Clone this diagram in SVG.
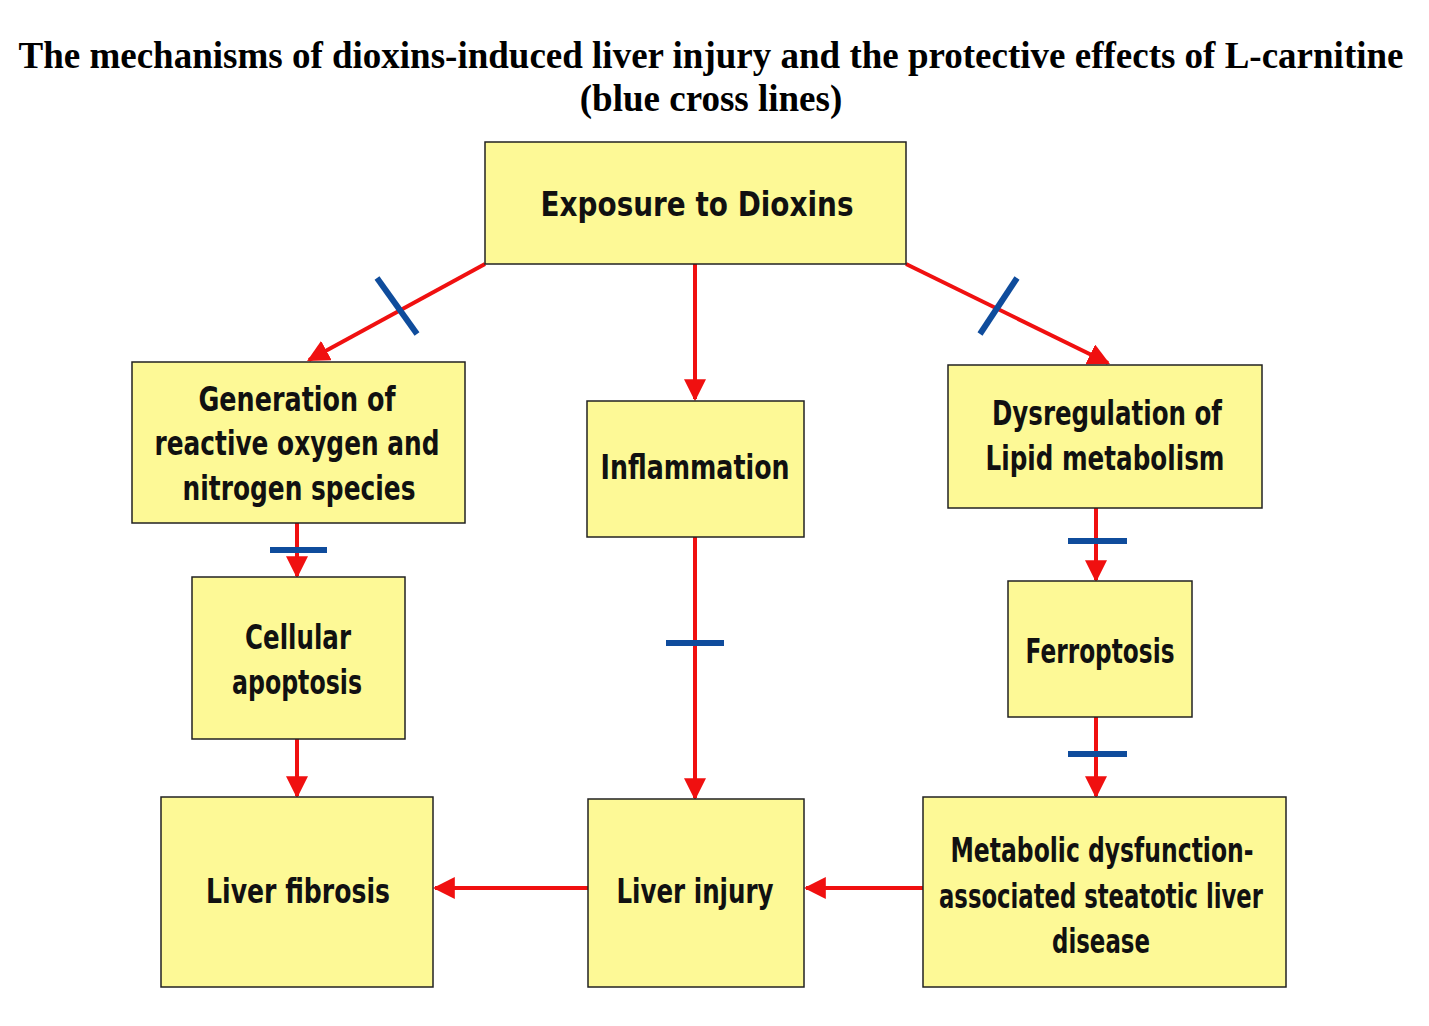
<svg xmlns="http://www.w3.org/2000/svg" width="1429" height="1026" viewBox="0 0 1429 1026">
<style>
.box{fill:#fdf996;stroke:#222;stroke-width:1.5}
.t{font-family:"DejaVu Sans","Liberation Sans",sans-serif;font-weight:bold;font-size:33px;fill:#111;text-anchor:middle}
.title{font-family:"Liberation Serif",serif;font-weight:bold;font-size:37px;fill:#000;text-anchor:middle}
.arr{stroke:#f01010;stroke-width:4;fill:none;marker-end:url(#ah)}
.blk{stroke:#0f4c9c;stroke-width:6;fill:none}
</style>
<defs>
<marker id="ah" viewBox="0 0 10 10" refX="9" refY="5" markerWidth="5.5" markerHeight="5.5" orient="auto" markerUnits="strokeWidth">
<path d="M0,0 L10,5 L0,10 z" fill="#f01010"/>
</marker>
</defs>
<rect width="1429" height="1026" fill="#fff"/>
<text class="title" x="711" y="68">The mechanisms of dioxins-induced liver injury and the protective effects of L-carnitine</text>
<text class="title" x="711" y="111">(blue cross lines)</text>

<g id="connectors">
<line class="arr" x1="485" y1="264" x2="309" y2="360"/>
<line class="blk" x1="377" y1="278" x2="417" y2="334"/>
<line class="arr" x1="695" y1="264" x2="695" y2="399"/>
<line class="arr" x1="906" y1="264" x2="1108" y2="363"/>
<line class="blk" x1="1017" y1="278" x2="980" y2="334"/>
<line class="arr" x1="297" y1="523" x2="297" y2="576"/>
<line class="blk" x1="270" y1="550" x2="327" y2="550"/>
<line class="arr" x1="297" y1="739" x2="297" y2="796"/>
<line class="arr" x1="695" y1="537" x2="695" y2="798"/>
<line class="blk" x1="666" y1="643" x2="724" y2="643"/>
<line class="arr" x1="1096" y1="508" x2="1096" y2="580"/>
<line class="blk" x1="1068" y1="541" x2="1127" y2="541"/>
<line class="arr" x1="1096" y1="717" x2="1096" y2="796"/>
<line class="blk" x1="1068" y1="754" x2="1127" y2="754"/>
<line class="arr" x1="588" y1="888" x2="435" y2="888"/>
<line class="arr" x1="923" y1="888" x2="806" y2="888"/>
</g>

<g id="exposure"><rect class="box" x="485" y="142" width="421" height="122"/><text class="t" x="697" y="216" textLength="313" lengthAdjust="spacingAndGlyphs">Exposure to Dioxins</text></g>
<g id="ros"><rect class="box" x="132" y="362" width="333" height="161"/><text class="t" x="297" y="411" textLength="197" lengthAdjust="spacingAndGlyphs">Generation of</text><text class="t" x="297" y="455" textLength="285" lengthAdjust="spacingAndGlyphs">reactive oxygen and</text><text class="t" x="299" y="500" textLength="233" lengthAdjust="spacingAndGlyphs">nitrogen species</text></g>
<g id="inflammation"><rect class="box" x="587" y="401" width="217" height="136"/><text class="t" x="695" y="479" textLength="189" lengthAdjust="spacingAndGlyphs">Inflammation</text></g>
<g id="lipid"><rect class="box" x="948" y="365" width="314" height="143"/><text class="t" x="1107" y="425" textLength="230" lengthAdjust="spacingAndGlyphs">Dysregulation of</text><text class="t" x="1105" y="470" textLength="239" lengthAdjust="spacingAndGlyphs">Lipid metabolism</text></g>
<g id="apoptosis"><rect class="box" x="192" y="577" width="213" height="162"/><text class="t" x="298" y="649" textLength="106" lengthAdjust="spacingAndGlyphs">Cellular</text><text class="t" x="297" y="694" textLength="130" lengthAdjust="spacingAndGlyphs">apoptosis</text></g>
<g id="ferroptosis"><rect class="box" x="1008" y="581" width="184" height="136"/><text class="t" x="1100" y="663" textLength="149" lengthAdjust="spacingAndGlyphs">Ferroptosis</text></g>
<g id="fibrosis"><rect class="box" x="161" y="797" width="272" height="190"/><text class="t" x="298" y="903" textLength="184" lengthAdjust="spacingAndGlyphs">Liver fibrosis</text></g>
<g id="injury"><rect class="box" x="588" y="799" width="216" height="188"/><text class="t" x="695" y="903" textLength="157" lengthAdjust="spacingAndGlyphs">Liver injury</text></g>
<g id="masld"><rect class="box" x="923" y="797" width="363" height="190"/><text class="t" x="1102" y="862" textLength="303" lengthAdjust="spacingAndGlyphs">Metabolic dysfunction-</text><text class="t" x="1101" y="908" textLength="324" lengthAdjust="spacingAndGlyphs">associated steatotic liver</text><text class="t" x="1101" y="953" textLength="98" lengthAdjust="spacingAndGlyphs">disease</text></g>
</svg>
